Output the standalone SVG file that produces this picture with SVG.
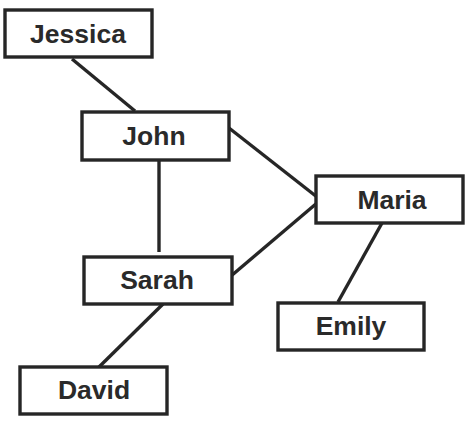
<svg xmlns="http://www.w3.org/2000/svg" width="474" height="421" viewBox="0 0 474 421">
<style>
.box{fill:#fff;stroke:#262626;stroke-width:3.4}
.lbl{font-family:"Liberation Sans",Arial,sans-serif;font-weight:bold;font-size:26.5px;fill:#2a2a2a;text-anchor:middle;dominant-baseline:central}
.edge{stroke:#262626;stroke-width:3.4;fill:none}
</style>
<rect width="474" height="421" fill="#fff"/>
<g id="connectors">
<line class="edge" x1="72" y1="59" x2="135" y2="111"/>
<line class="edge" x1="159" y1="160" x2="159" y2="252"/>
<line class="edge" x1="229" y1="128" x2="317" y2="197"/>
<line class="edge" x1="231" y1="276" x2="317" y2="203"/>
<line class="edge" x1="382" y1="223" x2="338" y2="302"/>
<line class="edge" x1="163" y1="304" x2="99" y2="367"/>
</g>
<g id="jessica"><rect class="box" x="5" y="10" width="147" height="47"/><text class="lbl" x="78" y="34">Jessica</text></g>
<g id="john"><rect class="box" x="82" y="112" width="147" height="48"/><text class="lbl" x="154" y="136">John</text></g>
<g id="sarah"><rect class="box" x="84" y="257" width="148" height="47"/><text class="lbl" x="157" y="280">Sarah</text></g>
<g id="maria"><rect class="box" x="316" y="176" width="147" height="47"/><text class="lbl" x="392" y="200">Maria</text></g>
<g id="emily"><rect class="box" x="278" y="303" width="146" height="47"/><text class="lbl" x="351" y="326">Emily</text></g>
<g id="david"><rect class="box" x="20" y="367" width="147" height="47"/><text class="lbl" x="94" y="390">David</text></g>
</svg>
